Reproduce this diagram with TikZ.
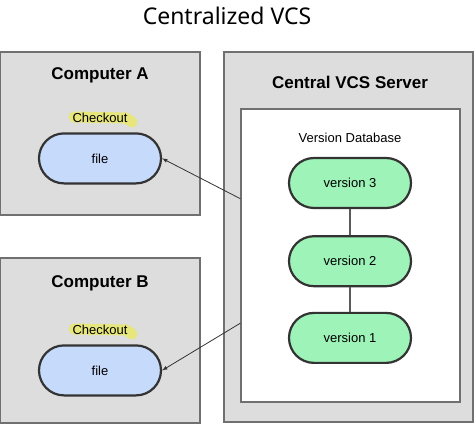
\documentclass[tikz,border=0pt]{standalone}
\usepackage{fontspec}
\setmainfont{Liberation Sans}
\newfontfamily\titlefont{Noto Sans}
\usepackage{tikz}
\usetikzlibrary{arrows,positioning,calc}
\usepackage{xcolor}

\definecolor{boxfill}{HTML}{DDDDDD}
\definecolor{boxline}{HTML}{707070}
\definecolor{pillline}{HTML}{333333}
\definecolor{fileblue}{HTML}{C6DAFC}
\definecolor{vergreen}{HTML}{9DF3B8}
\definecolor{marker}{HTML}{EEEC3C}

\tikzset{
machine/.style={draw=boxline, fill=boxfill, line width=1.3pt, inner sep=0pt},
store/.style={draw=boxline, fill=white, line width=1.3pt, inner sep=0pt, minimum width=219pt, minimum height=293pt},
pill/.style={draw=pillline, line width=2.2pt, rounded corners=25pt, minimum width=122pt, minimum height=50pt, font=\fontsize{13}{15}\selectfont},
filepill/.style={pill, fill=fileblue},
verpill/.style={pill, fill=vergreen},
heading/.style={font=\fontsize{17}{20}\selectfont\bfseries},
note/.style={font=\fontsize{13}{15}\selectfont},
hilite/.style={draw=marker, line width=11pt, line cap=round, line join=round, opacity=0.6},
}

\begin{document}
\begin{tikzpicture}[x=1pt,y=-1pt]
\useasboundingbox (0,0) rectangle (474,427);
\node[font=\titlefont\fontsize{23}{26}\selectfont] (title) at (227,16) {Centralized VCS};

% the two computers
\node[machine, minimum width=200pt, minimum height=163pt] (compA) at (100,133.5) {};
\node[machine, minimum width=200pt, minimum height=165pt] (compB) at (100,340.5) {};
\node[heading] (headA) at (100,75) {Computer A};
\node[heading] (headB) at (100,283) {Computer B};
\draw[hilite] (74,117) -- (126,118) -- (132,122);
\draw[hilite] (74,329) -- (126,330) -- (132,334);
\node[note] (chkA) at (100,118) {Checkout};
\node[note] (chkB) at (100,330) {Checkout};
\node[filepill, below=6pt of chkA] (fileA) {file};
\node[filepill, below=6pt of chkB] (fileB) {file};

% the server
\node[machine, minimum width=249pt, minimum height=370pt] (server) at (348.5,237) {};
\node[heading] (headS) at (350,82) {Central VCS Server};
\node[store] (db) at (350.5,255.5) {};
\node[note] (dbname) at (350,138) {Version Database};
\node[verpill] (v3) at (350,183) {version 3};
\node[verpill, below=26pt of v3] (v2) {version 2};
\node[verpill, below=24.5pt of v2] (v1) {version 1};
\draw[boxline!80!black, line width=1.1pt] (v3) -- (v2) (v2) -- (v1);

% checkouts
\coordinate (outA) at ($(db.north west)!0.307!(db.south west)$);
\coordinate (outB) at ($(db.north west)!0.73!(db.south west)$);
\draw[-latex, line width=0.8pt, pillline] (outA) -- (fileA.east);
\draw[-latex, line width=0.8pt, pillline] (outB) -- (fileB.east);
\end{tikzpicture}
\end{document}
